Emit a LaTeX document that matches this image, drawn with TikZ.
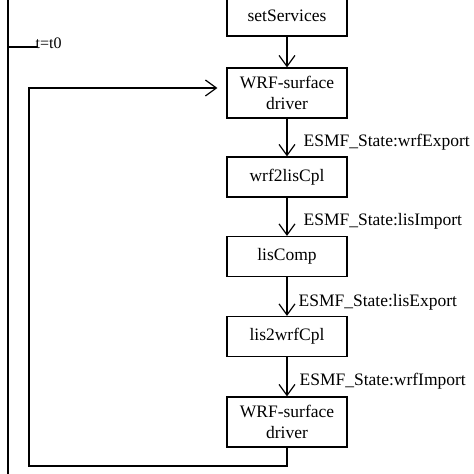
\documentclass[tikz,border=0pt]{standalone}
\usepackage{fontspec}
\setmainfont{Liberation Serif}
\usetikzlibrary{arrows.meta}
\tikzset{
  block/.style={draw, line width=1.2pt, minimum width=120pt, minimum height=40pt, align=center,
    font=\fontsize{17.5}{21}\selectfont, inner sep=2pt},
  flow/.style={line width=1.2pt, -{Straight Barb[length=11pt,width=16pt,line width=1.2pt]}},
  statelbl/.style={right, font=\fontsize{17.5}{21}\selectfont, inner sep=0pt}
}
\begin{document}
\begin{tikzpicture}[x=1pt,y=1pt]
    \useasboundingbox (0,0) rectangle (474,474);
    % Bloques
    \node[block] (setsrv) at (287,458) {setServices};
    \node[block, minimum height=50pt] (drv1) at (287,381) {WRF-surface\\driver};
    \node[block] (wrflis) at (287,297) {wrf2lisCpl};
    \node[block] (liscomp) at (287,217.5) {lisComp};
    \node[block] (liswrf) at (287,137.5) {lis2wrfCpl};
    \node[block, minimum height=50pt] (drv2) at (287,52) {WRF-surface\\driver};

    % Flujo principal
    \draw[flow] (setsrv) -- (drv1);
    \draw[flow] (drv1) -- node[statelbl, pos=0.62, xshift=16pt] {ESMF\_State:wrfExport} (wrflis);
    \draw[flow] (wrflis) -- node[statelbl, pos=0.62, xshift=16pt] {ESMF\_State:lisImport} (liscomp);
    \draw[flow] (liscomp) -- node[statelbl, pos=0.65, xshift=11pt] {ESMF\_State:lisExport} (liswrf);
    \draw[flow] (liswrf) -- node[statelbl, pos=0.62, xshift=12pt] {ESMF\_State:wrfImport} (drv2);

    % Lazo de tiempo
    \coordinate (loopbot) at (29,8);
    \coordinate (looptop) at (29,386);
    \draw[flow, shorten >=9pt] (drv2.south) -- (drv2.south |- loopbot) -- (loopbot) -- (looptop)
      -- (looptop -| drv1.west);

    % Eje de tiempo
    \coordinate (axtop) at (8,474);
    \coordinate (axbot) at (8,0);
    \coordinate (tzero) at (37,427);
    \draw[line width=1.2pt] (axtop) -- (axbot);
    \draw[line width=1.2pt] (axtop |- tzero) -- (tzero) node[right, inner sep=0pt, xshift=-2pt, yshift=4pt,
      font=\fontsize{16}{18}\selectfont] (tlbl) {t=t0};
\end{tikzpicture}
\end{document}
